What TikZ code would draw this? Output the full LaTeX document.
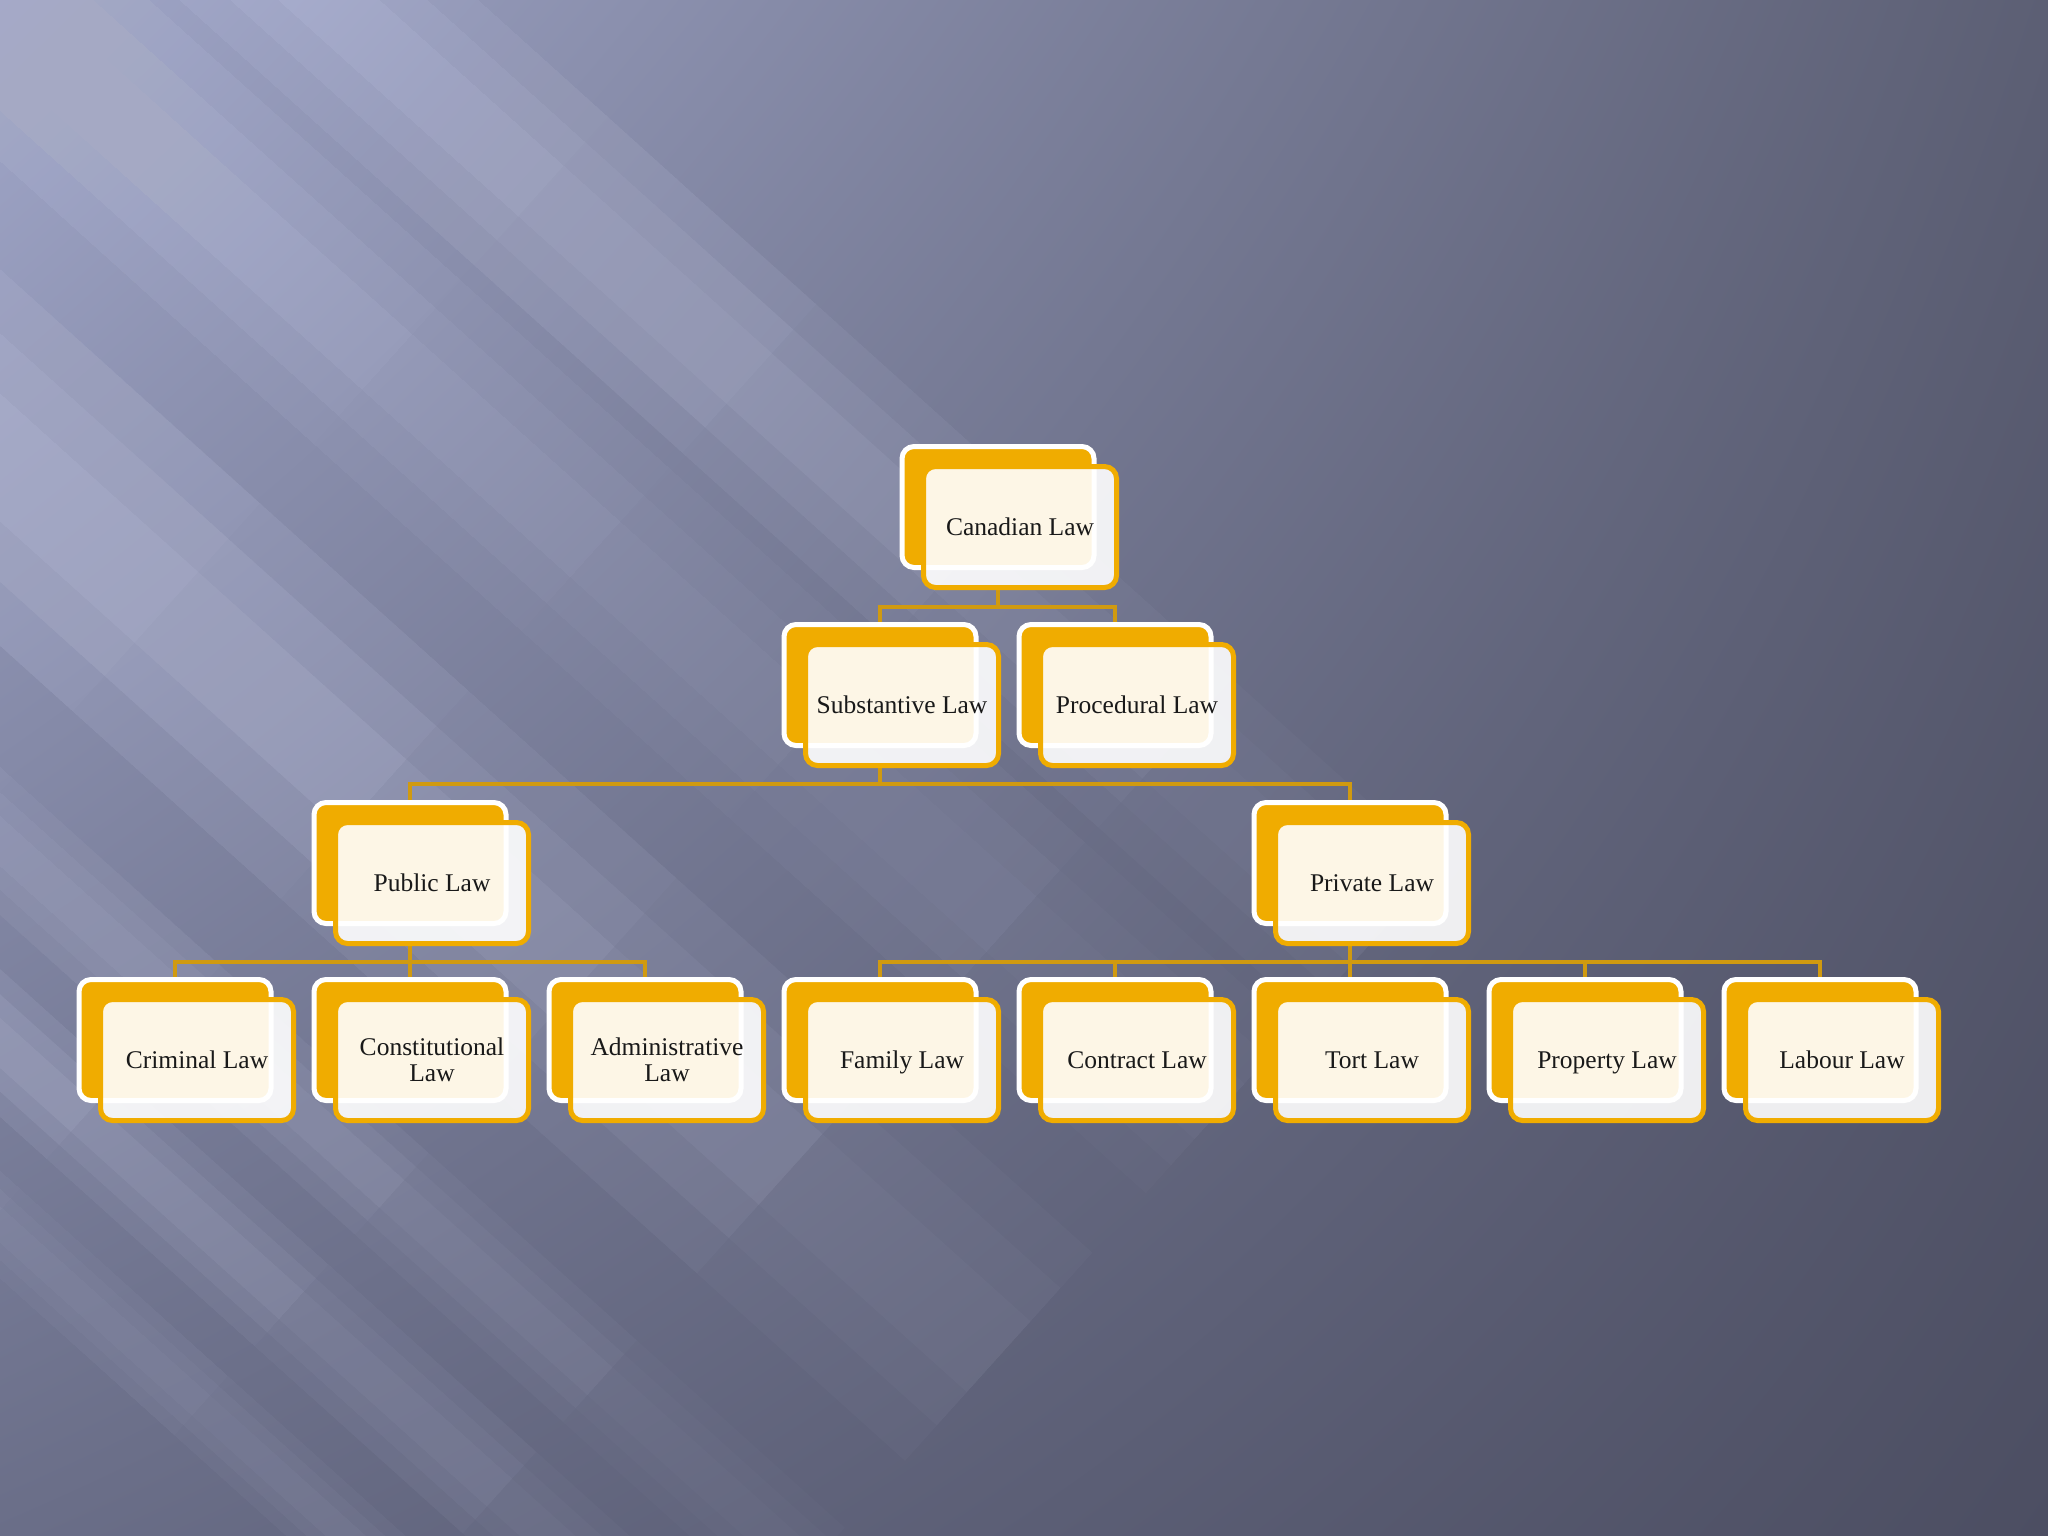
\documentclass[tikz,border=0pt]{standalone}
\usepackage{fontspec}
\setmainfont{Liberation Serif}
\usetikzlibrary{shadings}
\definecolor{cardorange}{RGB}{240,172,0}
\definecolor{linkgold}{RGB}{208,154,16}
\definecolor{bgul}{RGB}{160,166,200}
\definecolor{bgur}{RGB}{92,95,116}
\definecolor{bgll}{RGB}{106,110,136}
\definecolor{bglr}{RGB}{76,78,98}
\definecolor{raylight}{RGB}{215,219,246}
\pgfdeclarelayer{bg}
\pgfdeclarelayer{links}
\pgfsetlayers{bg,links,main}
\tikzset{
	backcard/.style={draw=white, line width=5pt, fill=cardorange, rounded corners=12pt, minimum width=192pt, minimum height=121pt, inner sep=0pt},
	lawcard/.style={draw=cardorange, line width=5pt, fill=white, fill opacity=0.9, text opacity=1, rounded corners=12pt, minimum width=193pt, minimum height=121pt, inner sep=0pt, align=center, text depth=0pt, text=black!90, font=\fontsize{25.5}{26}\selectfont},
	link/.style={draw=linkgold, line width=4.5pt}
}
\def\lawbox(#1)(#2,#3)#4{\node[backcard] (#1B) at (#2-22,#3-20) {}; \node[lawcard] (#1) at (#2,#3) {#4};}
% soft light streak: from #1 to #2 across, opacity per layer #3
\def\lightray#1#2#3{%
	\foreach \k in {1,...,5}{
		\foreach \w in {0,0.17,0.33}{
			\fill[raylight, fill opacity=#3] (-600,{#1+\w*(#2-#1)}) rectangle ({250+\k*280},{#2-\w*(#2-#1)});
		}
	}}

\begin{document}
\begin{tikzpicture}[x=1pt, y=-1pt]
	%%%%% BACKGROUND %%%%%
	\useasboundingbox (0,0) rectangle (2048,1536);
	\begin{pgfonlayer}{bg}
		\shade[upper left=bgul, upper right=bgur, lower left=bgll, lower right=bglr] (0,0) rectangle (2048,1536);
		\begin{scope}
			\clip (0,0) rectangle (2048,1536);
			\begin{scope}[rotate=-42]
				\lightray{-320}{-120}{0.026}
				\lightray{-100}{120}{0.018}
				\lightray{200}{480}{0.03}
				\lightray{570}{680}{0.024}
				\lightray{720}{830}{0.028}
				\lightray{870}{950}{0.018}
			\end{scope}
		\end{scope}
	\end{pgfonlayer}
	
	%%%%% CARDS %%%%%
	\lawbox(can)(1020,527){Canadian Law}
	
	\lawbox(sub)(902,705){Substantive Law}
	\lawbox(proc)(1137,705){Procedural Law}
	
	\lawbox(pub)(432,883){Public Law}
	\lawbox(priv)(1372,883){Private Law}
	
	\lawbox(crim)(197,1060){Criminal Law}
	\lawbox(const)(432,1060){Constitutional\\Law}
	\lawbox(admin)(667,1060){Administrative\\Law}
	\lawbox(fam)(902,1060){Family Law}
	\lawbox(contr)(1137,1060){Contract Law}
	\lawbox(tort)(1372,1060){Tort Law}
	\lawbox(prop)(1607,1060){Property Law}
	\lawbox(lab)(1842,1060){Labour Law}
	
	%%%%% LINKS %%%%%
	\begin{pgfonlayer}{links}
		\draw[link] (canB |- can.south) -- ++(0,17) -| (subB.north);
		\draw[link] (canB |- can.south) -- ++(0,17) -| (procB.north);
		
		\draw[link] (subB |- sub.south) -- ++(0,16) -| (pubB.north);
		\draw[link] (subB |- sub.south) -- ++(0,16) -| (privB.north);
		
		\draw[link] (pubB |- pub.south) -- ++(0,16) -| (crimB.north);
		\draw[link] (pubB |- pub.south) -- ++(0,16) -| (constB.north);
		\draw[link] (pubB |- pub.south) -- ++(0,16) -| (adminB.north);
		
		\draw[link] (privB |- priv.south) -- ++(0,16) -| (famB.north);
		\draw[link] (privB |- priv.south) -- ++(0,16) -| (contrB.north);
		\draw[link] (privB |- priv.south) -- ++(0,16) -| (tortB.north);
		\draw[link] (privB |- priv.south) -- ++(0,16) -| (propB.north);
		\draw[link] (privB |- priv.south) -- ++(0,16) -| (labB.north);
	\end{pgfonlayer}
\end{tikzpicture}
\end{document}
